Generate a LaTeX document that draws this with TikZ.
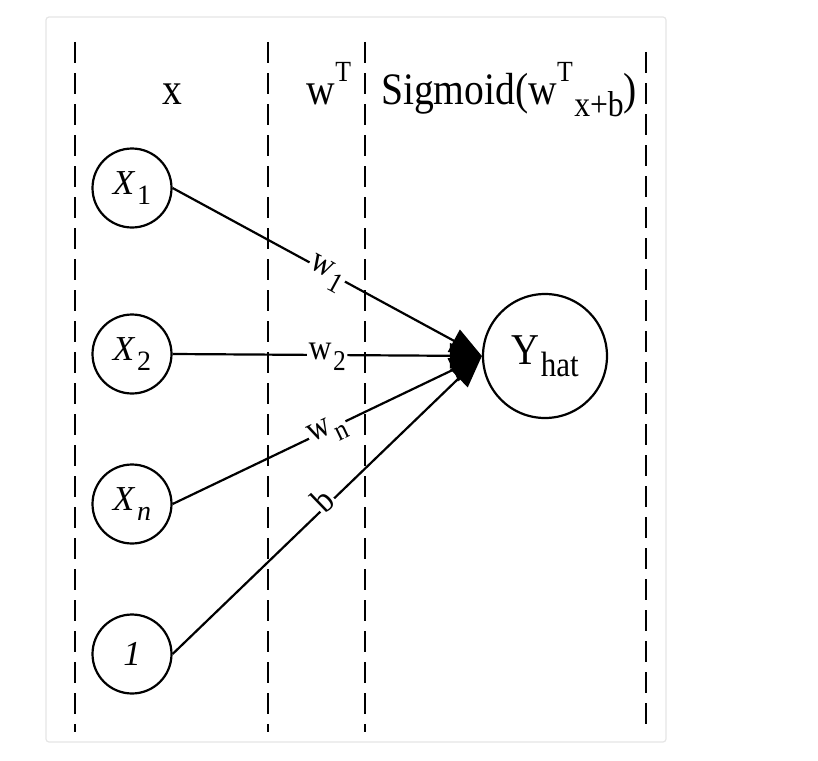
\documentclass[tikz,border=0pt]{standalone}
\usepackage{fontspec}
\usepackage{graphicx}
\setmainfont{Liberation Serif}
\newfontfamily\simfont[FakeStretch=0.88]{Liberation Serif}
\usetikzlibrary{arrows.meta}
\newcommand\mysub[1]{\kern1.5pt\raisebox{-0.28em}{\scalebox{0.8}{#1}}}
\newcommand\mysup[1]{\raisebox{0.5em}{\scalebox{0.65}{#1}}}
\begin{document}
\begin{tikzpicture}[x=1pt,y=-1pt,
  frame/.style={draw=black!10, line width=1.2pt, rounded corners=3pt},
  divider/.style={line width=2.2pt, dash pattern=on 21pt off 10pt},
  inp/.style={circle, draw, line width=2.2pt, minimum size=79pt, inner sep=0pt, font=\fontsize{35}{35}\selectfont},
  outp/.style={circle, draw, line width=2.2pt, minimum size=124pt, inner sep=0pt, font=\simfont\fontsize{44}{44}\selectfont},
  head/.style={anchor=base, inner sep=0pt, font=\simfont\fontsize{45}{45}\selectfont},
  edge/.style={line width=2.2pt, -{Triangle[length=32pt,width=25pt]}},
  lbl/.style={midway, sloped, fill=white, inner sep=1.5pt, text height=1.0em, text depth=0pt, font=\simfont\fontsize{36}{36}\selectfont}]
\useasboundingbox (0,0) rectangle (818,760);
\draw[frame] (46,17) rectangle (666,742);
% dashed dividers
\coordinate (d1t) at (75,42);  \coordinate (d1b) at (75,732);
\coordinate (d2t) at (268,42); \coordinate (d2b) at (268,732);
\coordinate (d3t) at (365,42); \coordinate (d3b) at (365,732);
\coordinate (d4t) at (646,52); \coordinate (d4b) at (646,732);
\draw[divider] (d1t) -- (d1b);
\draw[divider] (d2t) -- (d2b);
\draw[divider] (d3t) -- (d3b);
\draw[divider] (d4t) -- (d4b);
% headers
\node[head] (hx) at (172,104) {x};
\node[head] (hw) at (329,104) {w\mysup{T}};
\node[head] (hs) at (509,104) {Sigmoid(w\mysup{T}\mysub{x+b})};
% nodes
\node[inp] (x1) at (132,188) {\textit{X}\mysub{1}};
\node[inp] (x2) at (132,354) {\textit{X}\mysub{2}};
\node[inp] (xn) at (132,504) {\textit{X}\mysub{\textit{n}}};
\node[inp] (one) at (132,654) {\textit{1}};
\node[outp] (y) at (545,356) {Y\mysub{hat}};
% edges
\draw[edge] (x1.east) -- node[lbl] {w\mysub{1}} (y.west);
\draw[edge] (x2.east) -- node[lbl] {w\mysub{2}} (y.west);
\draw[edge] (xn.east) -- node[lbl] {w\mysub{n}} (y.west);
\draw[edge] (one.east) -- node[lbl] {b} (y.west);
\end{tikzpicture}
\end{document}
